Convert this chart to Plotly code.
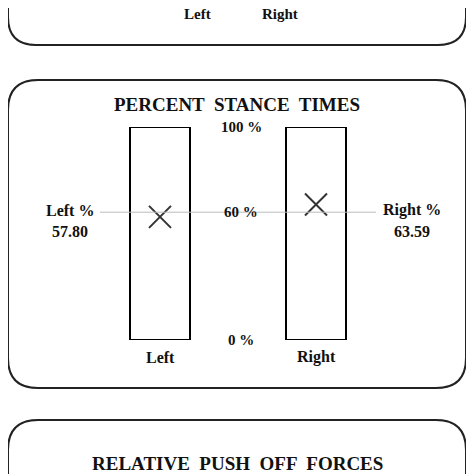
import plotly.graph_objects as go

sides = ['Left', 'Right']
stance_pct = [57.80, 63.59]
bar_top = [100, 100]
tick_vals = [0, 60, 100]
tick_text = ['0 %', '60 %', '100 %']
bar_x = [160, 316]

# the page draws the figure 8px in from the top-left corner
OFF = 8
W = H = 474
F = 'Liberation Serif'
fig = go.Figure()

def rrect(x0, y0, x1, y1, r):
    return (f'M{x0+r},{y0} L{x1-r},{y0} Q{x1},{y0} {x1},{y0+r} L{x1},{y1-r} '
            f'Q{x1},{y1} {x1-r},{y1} L{x0+r},{y1} Q{x0},{y1} {x0},{y1-r} '
            f'L{x0},{y0+r} Q{x0},{y0} {x0+r},{y0} Z')

# bars (percent axis)
fig.add_trace(go.Bar(x=bar_x, y=bar_top, width=60, xaxis='x2', yaxis='y2',
                     marker=dict(color='white', line=dict(color='black', width=2)),
                     showlegend=False))
fig.add_trace(go.Scatter(x=bar_x, y=stance_pct, mode='markers', xaxis='x2', yaxis='y2',
                         marker=dict(symbol='x-thin', size=22, line=dict(color='#333', width=2)),
                         showlegend=False))

shapes = [
    dict(type='path', path=rrect(8, -40, 466, 45, 28), line=dict(color='#222', width=2), xref='x', yref='y'),
    dict(type='path', path=rrect(8, 80, 466, 388, 30), line=dict(color='#222', width=2), xref='x', yref='y'),
    dict(type='path', path=rrect(8, 420, 466, 520, 30), line=dict(color='#222', width=2), xref='x', yref='y'),
    dict(type='line', x0=100, x1=376, y0=60, y1=60, xref='x', yref='y2',
         line=dict(color='#bbb', width=1), layer='above'),
]

ann = []
def t(x, y, s, size=16, yref='y'):
    ann.append(dict(x=x, y=y, text=s, showarrow=False, xref='x', yref=yref,
                    font=dict(family=F, size=size, color='#111')))

t(197, 14, '<b>Left</b>', 15)
t(280, 14, '<b>Right</b>', 15)
t(237, 104, '<b>PERCENT  STANCE  TIMES</b>', 19)
for v, s in zip(tick_vals, tick_text):
    t(241, v, f'<b>{s}</b>', 15, yref='y2')
t(70, 210, f'<b>{sides[0]} %</b>', 16)
t(70, 231, f'<b>{stance_pct[0]:.2f}</b>', 16)
t(412, 210, f'<b>{sides[1]} %</b>', 16)
t(412, 231, f'<b>{stance_pct[1]:.2f}</b>', 16)
t(bar_x[0], 357, f'<b>{sides[0]}</b>', 16)
t(bar_x[1], 357, f'<b>{sides[1]}</b>', 16)
t(237, 463, '<b>RELATIVE  PUSH  OFF  FORCES</b>', 19)

G = W - OFF
fig.update_layout(
    width=G, height=G, margin=dict(l=0, r=0, t=0, b=0),
    paper_bgcolor='white', plot_bgcolor='white',
    xaxis=dict(range=[OFF, W], visible=False),
    yaxis=dict(range=[H, OFF], visible=False),
    xaxis2=dict(range=[OFF, W], visible=False, overlaying='x'),
    yaxis2=dict(range=[0, 100], domain=[(H-340)/G, (H-127)/G], visible=False, anchor='x2'),
    shapes=shapes, annotations=ann,
)
fig.write_html('out.html')
